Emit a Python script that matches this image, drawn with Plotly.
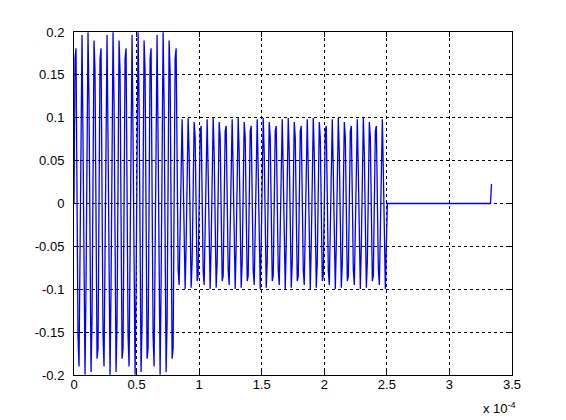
import plotly.graph_objects as go

# ---- data ----
sample_interval = 0.8e-6          # seconds per sample
# first part: amplitude ~0.2 (samples 0..103)
seg_high = [
    0, 0.1689, 0.1810, 0.0251, -0.1541, -0.1902, -0.0497, 0.1369, 0.1965, 0.0736, -0.1176, -0.1996, -0.0964, 0.0964, 0.1996, 0.1176, -0.0736, -0.1965, -0.1369, 0.0497, 0.1902, 0.1541, -0.0251, -0.1810, -0.1689,
    0, 0.1689, 0.1810, 0.0251, -0.1541, -0.1902, -0.0497, 0.1369, 0.1965, 0.0736, -0.1176, -0.1996, -0.0964, 0.0964, 0.1996, 0.1176, -0.0736, -0.1965, -0.1369, 0.0497, 0.1902, 0.1541, -0.0251, -0.1810, -0.1689,
    0, 0.1689, 0.1810, 0.0251, -0.1541, -0.1902, -0.0497, 0.1369, 0.1965, 0.0736, -0.1176, -0.1996, -0.0964, 0.0964, 0.1996, 0.1176, -0.0736, -0.1965, -0.1369, 0.0497, 0.1902, 0.1541, -0.0251, -0.1810, -0.1689,
    0, 0.1689, 0.1810, 0.0251, -0.1541, -0.1902, -0.0497, 0.1369, 0.1965, 0.0736, -0.1176, -0.1996, -0.0964, 0.0964, 0.1996, 0.1176, -0.0736, -0.1965, -0.1369, 0.0497, 0.1902, 0.1541, -0.0251, -0.1810, -0.1689,
    0, 0.1689, 0.1810, 0.0251,
]
# second part: amplitude ~0.1 (samples 104..312)
seg_low = [
    -0.0771, -0.0951, -0.0249, 0.0685, 0.0982, 0.0368, -0.0588, -0.0998, -0.0482, 0.0482, 0.0998, 0.0588, -0.0368, -0.0982, -0.0685, 0.0249, 0.0951, 0.0771, -0.0125, -0.0905, -0.0844,
    0, 0.0844, 0.0905, 0.0125, -0.0771, -0.0951, -0.0249, 0.0685, 0.0982, 0.0368, -0.0588, -0.0998, -0.0482, 0.0482, 0.0998, 0.0588, -0.0368, -0.0982, -0.0685, 0.0249, 0.0951, 0.0771, -0.0125, -0.0905, -0.0844,
    0, 0.0844, 0.0905, 0.0125, -0.0771, -0.0951, -0.0249, 0.0685, 0.0982, 0.0368, -0.0588, -0.0998, -0.0482, 0.0482, 0.0998, 0.0588, -0.0368, -0.0982, -0.0685, 0.0249, 0.0951, 0.0771, -0.0125, -0.0905, -0.0844,
    0, 0.0844, 0.0905, 0.0125, -0.0771, -0.0951, -0.0249, 0.0685, 0.0982, 0.0368, -0.0588, -0.0998, -0.0482, 0.0482, 0.0998, 0.0588, -0.0368, -0.0982, -0.0685, 0.0249, 0.0951, 0.0771, -0.0125, -0.0905, -0.0844,
    0, 0.0844, 0.0905, 0.0125, -0.0771, -0.0951, -0.0249, 0.0685, 0.0982, 0.0368, -0.0588, -0.0998, -0.0482, 0.0482, 0.0998, 0.0588, -0.0368, -0.0982, -0.0685, 0.0249, 0.0951, 0.0771, -0.0125, -0.0905, -0.0844,
    0, 0.0844, 0.0905, 0.0125, -0.0771, -0.0951, -0.0249, 0.0685, 0.0982, 0.0368, -0.0588, -0.0998, -0.0482, 0.0482, 0.0998, 0.0588, -0.0368, -0.0982, -0.0685, 0.0249, 0.0951, 0.0771, -0.0125, -0.0905, -0.0844,
    0, 0.0844, 0.0905, 0.0125, -0.0771, -0.0951, -0.0249, 0.0685, 0.0982, 0.0368, -0.0588, -0.0998, -0.0482, 0.0482, 0.0998, 0.0588, -0.0368, -0.0982, -0.0685, 0.0249, 0.0951, 0.0771, -0.0125, -0.0905, -0.0844,
    0, 0.0844, 0.0905, 0.0125, -0.0771, -0.0951, -0.0249, 0.0685, 0.0982, 0.0368, -0.0588, -0.0998, -0.0482, 0.0482, 0.0998, 0.0588, -0.0368, -0.0982, -0.0685, 0.0249, 0.0951, 0.0771, -0.0125, -0.0905, -0.0844,
    0, 0.0844, 0.0905, 0.0125, -0.0771, -0.0951, -0.0249, 0.0685, 0.0982, 0.0368, -0.0588, -0.0998, -0.0482,
]
# silent tail (samples 313..416) and final spike (sample 417)
seg_silence = [
    0, 0, 0, 0, 0, 0, 0, 0, 0, 0, 0, 0, 0, 0, 0, 0, 0, 0, 0, 0, 0, 0, 0, 0, 0, 0,
    0, 0, 0, 0, 0, 0, 0, 0, 0, 0, 0, 0, 0, 0, 0, 0, 0, 0, 0, 0, 0, 0, 0, 0, 0, 0,
    0, 0, 0, 0, 0, 0, 0, 0, 0, 0, 0, 0, 0, 0, 0, 0, 0, 0, 0, 0, 0, 0, 0, 0, 0, 0,
    0, 0, 0, 0, 0, 0, 0, 0, 0, 0, 0, 0, 0, 0, 0, 0, 0, 0, 0, 0, 0, 0, 0, 0, 0, 0,
]
seg_spike = [0.0227]

x_tick_vals = [0, 0.5e-4, 1.0e-4, 1.5e-4, 2.0e-4, 2.5e-4, 3.0e-4, 3.5e-4]
x_tick_text = ["0", "0.5", "1", "1.5", "2", "2.5", "3", "3.5"]
y_tick_vals = [-0.2, -0.15, -0.1, -0.05, 0, 0.05, 0.1, 0.15, 0.2]
y_tick_text = ["-0.2", "-0.15", "-0.1", "-0.05", "0", "0.05", "0.1", "0.15", "0.2"]

signal = seg_high + seg_low + seg_silence + seg_spike

FONT = "Liberation Sans, Arial, sans-serif"

fig = go.Figure()
fig.add_trace(go.Scatter(
    y=signal, x0=0, dx=sample_interval, mode="lines",
    line=dict(color="#0000FF", width=1.3), hoverinfo="skip", showlegend=False,
))

axis_common = dict(
    showline=True, linecolor="black", linewidth=1, mirror="ticks",
    ticks="inside", ticklen=5, tickcolor="black", tickwidth=1,
    showgrid=True, gridcolor="black", gridwidth=1, griddash="3px,3px",
    zeroline=False, tickfont=dict(family=FONT, size=13, color="black"),
)
fig.update_xaxes(range=[0, 3.5e-4], tickmode="array", tickvals=x_tick_vals,
                 ticktext=x_tick_text, ticklabelstandoff=-3, **axis_common)
fig.update_yaxes(range=[-0.2, 0.2], tickmode="array", tickvals=y_tick_vals,
                 ticktext=y_tick_text, ticklabelstandoff=6, **axis_common)

fig.add_annotation(
    text="x 10<sup>-4</sup>", xref="paper", yref="paper", x=0.972, y=-0.095,
    xanchor="center", yanchor="middle", showarrow=False,
    font=dict(family=FONT, size=13, color="black"),
)

# page body has an 8px margin, so the figure is sized to fit the 566x420 window
fig.update_layout(
    width=558, height=412, margin=dict(l=66, r=54, t=24, b=45),
    paper_bgcolor="white", plot_bgcolor="white",
)

fig.write_html("out.html")
